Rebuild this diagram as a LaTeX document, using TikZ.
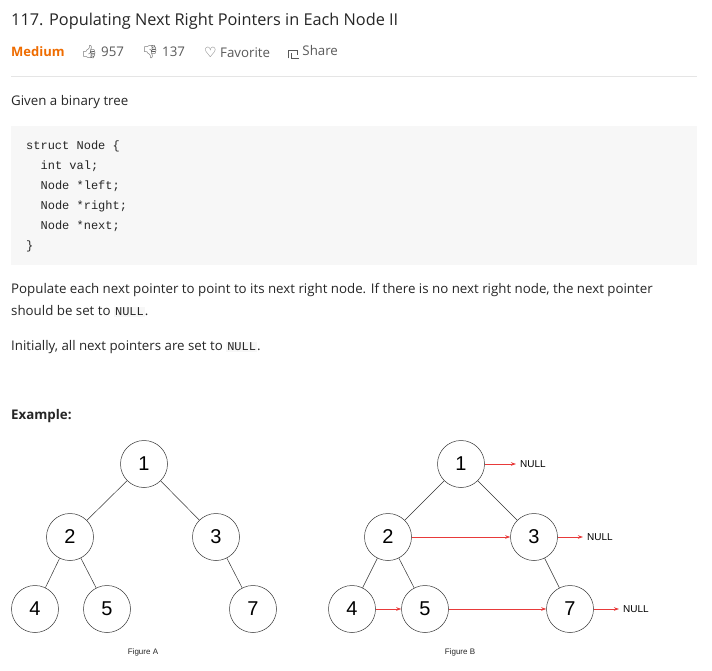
\documentclass[tikz,border=0pt]{standalone}
\usepackage{fontspec}
\setmainfont{Open Sans}
\newfontfamily\codef{Liberation Mono}
\newfontfamily\figf{Liberation Sans}
\newfontfamily\emo{Noto Emoji}
\newfontfamily\djv{DejaVu Sans}
\usetikzlibrary{arrows.meta}
\definecolor{txt}{HTML}{262626}
\definecolor{gr}{HTML}{595959}
\definecolor{med}{HTML}{EF6C00}
\definecolor{codebg}{HTML}{F7F7F7}
\definecolor{nr}{HTML}{E83A3A}
\begin{document}
\begin{tikzpicture}[x=1pt,y=-1pt,
  tn/.style={circle,draw=black!80,line width=0.5pt,minimum size=47pt,inner sep=0pt,font=\figf\fontsize{20}{20}\selectfont},
  edge/.style={draw=black!80,line width=0.5pt},
  nx/.style={draw=nr,line width=0.8pt,-{Stealth[length=5pt,width=3.5pt]}},
  nl/.style={font=\figf\fontsize{10}{10}\selectfont,anchor=west,inner sep=0pt},
  figcap/.style={font=\figf\fontsize{8}{8}\selectfont,text=txt},
  body/.style={anchor=west,inner sep=0pt,text=txt,font=\fontsize{13.3}{13.3}\selectfont},
  cl/.style={anchor=west,inner sep=0pt,text=txt,font=\codef\fontsize{12}{12}\selectfont},
  mono/.style={inner sep=1pt,fill=codebg,font=\codef\fontsize{12}{12}\selectfont}]
\fill[white] (0,0) rectangle (712,671);
\node[body,font=\fontsize{16.3}{16.3}\selectfont] (title) at (11,21) {117. Populating Next Right Pointers in Each Node II};
\node[body,text=med,font=\bfseries\fontsize{13}{13}\selectfont] (medium) at (11,52) {Medium};
\node[body,text=gr] (likes) at (81,52) {{\emo\fontsize{13}{13}\selectfont 👍} 957};
\node[body,text=gr] (dislikes) at (142,52) {{\emo\fontsize{13}{13}\selectfont 👎} 137};
\node[body,text=gr] (fav) at (204,52) {{\djv\fontsize{14}{14}\selectfont ♡} Favorite};
\node[body,text=gr] (share) at (288,52) {\tikz[baseline=-1pt]{\draw[gr,line width=0.8pt] (0,4)--(0,-4)--(9,-4)--(9,1);\draw[gr,line width=0.8pt](3,-1)--(3,4)--(10,4);} Share};
\draw[black!10] (11,76) -- (697,76);
\node[body] (given) at (11,102) {Given a binary tree};
\fill[codebg] (11,126) rectangle (697,265);
\node[cl] (c1) at (26,146) {struct Node \{};
\node[cl] (c2) at (26,166) {\ \ int val;};
\node[cl] (c3) at (26,186) {\ \ Node *left;};
\node[cl] (c4) at (26,206) {\ \ Node *right;};
\node[cl] (c5) at (26,226) {\ \ Node *next;};
\node[cl] (c6) at (26,246) {\}};
\node[body] (p1) at (11,290) {Populate each next pointer to point to its next right node. If there is no next right node, the next pointer};
\node[body] (p2) at (11,311) {should be set to \tikz[baseline=(m.base)]\node[mono] (m) {NULL};.};
\node[body] (p3) at (11,347) {Initially, all next pointers are set to \tikz[baseline=(m.base)]\node[mono] (m) {NULL};.};
\node[body,font=\bfseries\fontsize{13.3}{13.3}\selectfont] (ex) at (11,416) {Example:};
% Figure A
\node[tn] (a1) at (144,464) {1};
\node[tn] (a2) at (70,537) {2};
\node[tn] (a3) at (216,537) {3};
\node[tn] (a4) at (35,609) {4};
\node[tn] (a5) at (107,609) {5};
\node[tn] (a7) at (253,609) {7};
\draw[edge] (a1)--(a2); \draw[edge] (a1)--(a3);
\draw[edge] (a2)--(a4); \draw[edge] (a2)--(a5); \draw[edge] (a3)--(a7);
\node[figcap] (capa) at (143,652) {Figure A};
% Figure B
\node[tn] (b1) at (461,464) {1};
\node[tn] (b2) at (388,537) {2};
\node[tn] (b3) at (534,537) {3};
\node[tn] (b4) at (352,609) {4};
\node[tn] (b5) at (425,609) {5};
\node[tn] (b7) at (570,609) {7};
\draw[edge] (b1)--(b2); \draw[edge] (b1)--(b3);
\draw[edge] (b2)--(b4); \draw[edge] (b2)--(b5); \draw[edge] (b3)--(b7);
\node[nl] (n1) at (520,464) {NULL};
\node[nl] (n3) at (587,537) {NULL};
\node[nl] (n7) at (623,609) {NULL};
\draw[nx] (b1) -- ([xshift=-4pt]n1.west);
\draw[nx] (b3) -- ([xshift=-4pt]n3.west);
\draw[nx] (b7) -- ([xshift=-4pt]n7.west);
\draw[nx] (b2) -- (b3);
\draw[nx] (b4) -- (b5);
\draw[nx] (b5) -- (b7);
\node[figcap] (capb) at (460,652) {Figure B};
\end{tikzpicture}
\end{document}
